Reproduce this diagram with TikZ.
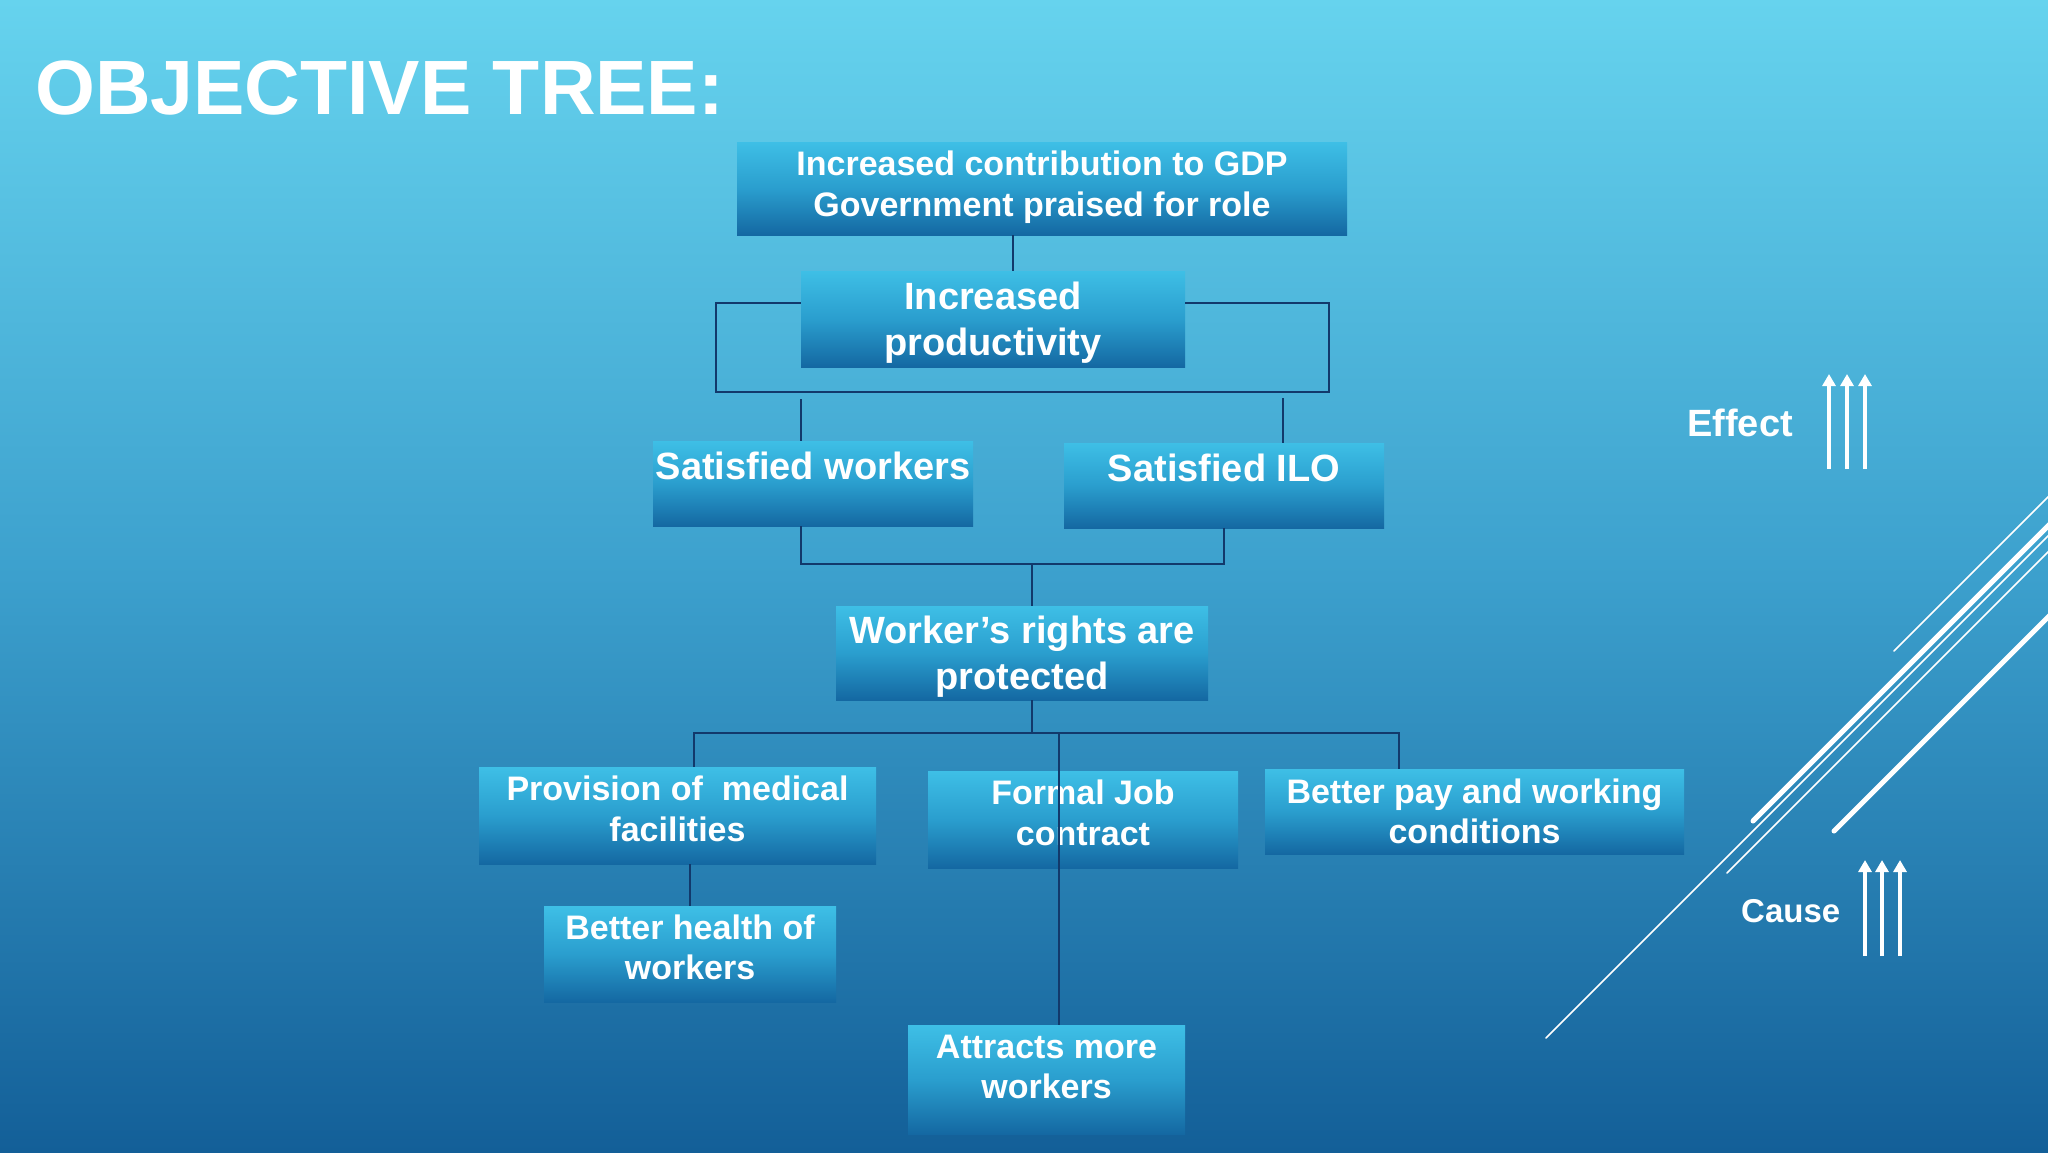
\documentclass[tikz,border=0pt]{standalone}
\usepackage{fontspec}
\setmainfont{Liberation Sans}
\usetikzlibrary{arrows.meta}
\definecolor{bgtop}{HTML}{66D3EE}
\definecolor{bgmid}{HTML}{3CA0CD}
\definecolor{bgbot}{HTML}{135F98}
\definecolor{boxtop}{HTML}{3EBFE6}
\definecolor{boxmid}{HTML}{2A9ECE}
\definecolor{boxbot}{HTML}{1468A2}
\definecolor{linkcol}{HTML}{12396B}
\newcommand{\objsmall}{\fontsize{34}{40.5}\selectfont\bfseries}
\newcommand{\objlarge}{\fontsize{38}{45.6}\selectfont\bfseries}
\tikzstyle{objbox} = [rectangle, inner sep=0pt, align=center, text=white, top color=boxtop, bottom color=boxbot, middle color=boxmid, text depth=0pt]
\tikzstyle{link} = [draw=linkcol, line width=2pt]
\tikzstyle{uparrow} = [white, line width=4pt, -{Triangle[width=13pt,length=12pt]}]
\tikzstyle{slice} = [white, line cap=round]

\begin{document}
\begin{tikzpicture}[x=1pt,y=-1pt]
			\tikzset{heading/.style={anchor=base west, inner sep=0pt, text=white}}
			\useasboundingbox (0,0) rectangle (2048,1152);
			\shade[top color=bgtop, bottom color=bgbot, middle color=bgmid] (0,0) rectangle (2048,1152);
			\begin{scope}
				\clip (0,0) rectangle (2048,1152);
				\draw[slice, line width=1.5pt] (1894,651) -- (2060,485);
				\draw[slice, line width=5pt] (1753,821) -- (2060,514);
				\draw[slice, line width=1.5pt] (1546,1038) -- (2060,524);
				\draw[slice, line width=1.5pt] (1727,873) -- (2060,540);
				\draw[slice, line width=5pt] (1834,831) -- (2060,605);
			\end{scope}
			\node[heading, font=\fontsize{77}{80}\selectfont\bfseries] (title) at (35,114) {OBJECTIVE TREE:};
			% effects
			\node[objbox, minimum width=610pt, minimum height=93pt, font=\objsmall, text height=55.8pt] (gdp) at (1042,188.5) {Increased contribution to GDP\\Government praised for role};
			\node[objbox, minimum width=384pt, minimum height=96pt, font=\objlarge, text height=72.8pt] (prod) at (993,319) {Increased\\productivity};
			\node[objbox, minimum width=320pt, minimum height=85pt, font=\objlarge, text height=27.2pt, text depth=35pt] (wrk) at (813,483.5) {Satisfied workers};
			\node[objbox, minimum width=320pt, minimum height=85pt, font=\objlarge, text height=27.2pt, text depth=35pt] (ilo) at (1224,485.5) {Satisfied ILO};
			% core
			\node[objbox, minimum width=372pt, minimum height=94pt, font=\objlarge, text height=72.8pt] (rights) at (1022,653) {Worker’s rights are\\protected};
			% means
			\node[objbox, minimum width=397pt, minimum height=97pt, font=\objsmall, text height=51.8pt] (med) at (677.5,815.5) {Provision of\ \ medical\\facilities};
			\node[objbox, minimum width=310pt, minimum height=97pt, font=\objsmall, text height=51.8pt] (job) at (1083,819.5) {Formal Job\\contract};
			\node[objbox, minimum width=419pt, minimum height=85pt, font=\objsmall, text height=64.8pt] (pay) at (1474.5,811.5) {Better pay and working\\conditions};
			\node[objbox, minimum width=292pt, minimum height=96pt, font=\objsmall, text height=51.8pt] (health) at (690,954) {Better health of\\workers};
			\node[objbox, minimum width=277pt, minimum height=109pt, font=\objsmall, text height=38.8pt] (attr) at (1046.5,1079.5) {Attracts more\\workers};
			% connectors
			\draw[link] ([xshift=-29pt]gdp.south) -- ([xshift=-29pt]gdp.south |- prod.north);
			\draw[link] ([yshift=16.5pt]prod.west) -- ++(-85,0) -- ++(0,89) -- ++(613,0) -- ++(0,-89) -- ([yshift=16.5pt]prod.east);
			\draw[link] ([xshift=-12pt]wrk.north) -- ++(0,-42);
			\draw[link] ([xshift=59pt]ilo.north) -- ++(0,-45);
			\coordinate (j1) at (1032,564);
			\draw[link] ([xshift=-12pt]wrk.south) |- (j1) -| (ilo.south);
			\draw[link] (j1) -- (j1 |- rights.north);
			\coordinate (j2) at (1032,733);
			\coordinate (jl) at (694,733);
			\coordinate (jm) at (1059,733);
			\coordinate (jr) at (1399,733);
			\draw[link] (j2 |- rights.south) -- (j2);
			\draw[link] (med.north -| jl) |- (jr) -- (jr |- pay.north);
			\draw[link] ([xshift=12.5pt]med.south) -- ([xshift=12.5pt]med.south |- health.north);
			\draw[link] (jm) -- (jm |- attr.north);
			% legend
			\node[heading, font=\fontsize{38}{40}\selectfont\bfseries] (effect) at (1687,436) {Effect};
			\node[heading, font=\fontsize{33}{36}\selectfont\bfseries] (cause) at (1741,922) {Cause};
			\foreach \x in {1829,1847,1865} \draw[uparrow] (\x,469) -- (\x,374);
			\foreach \x in {1865,1882,1900} \draw[uparrow] (\x,956) -- (\x,860);
		\end{tikzpicture}
\end{document}
